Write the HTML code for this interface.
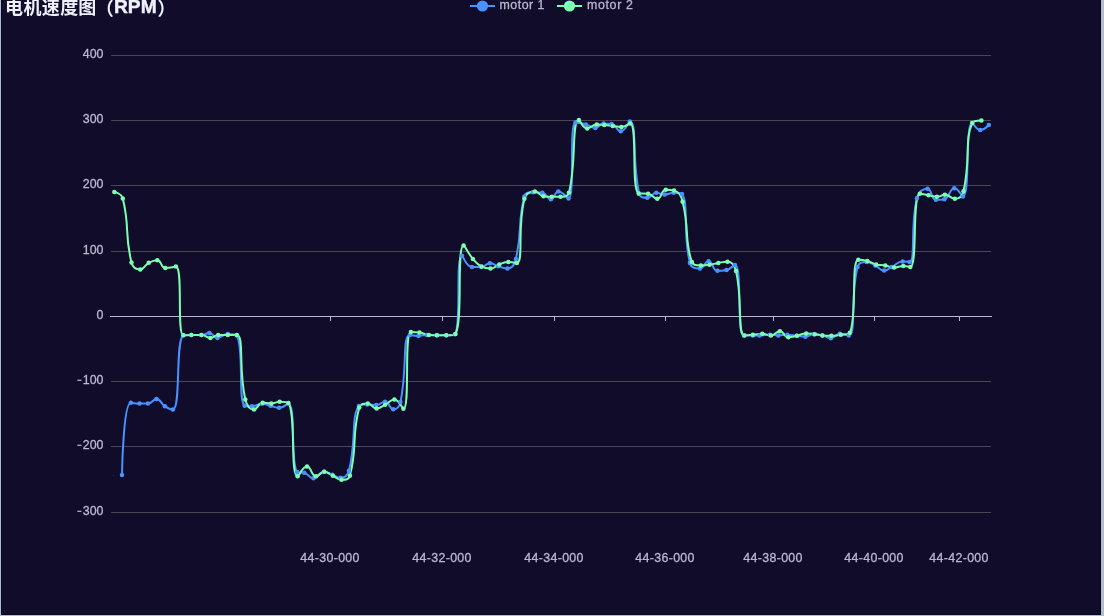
<!DOCTYPE html>
<html lang="zh"><head><meta charset="utf-8"><title>电机速度图</title>
<style>
html,body{margin:0;padding:0;background:#100c2a;overflow:hidden;}
body{width:1104px;height:616px;position:relative;font-family:"Liberation Sans",sans-serif;}
</style></head><body>
<svg role="img" aria-label="电机速度图（RPM）" width="1104" height="616" viewBox="0 0 1104 616" style="position:absolute;left:0;top:0;display:block;will-change:transform"><rect x="0" y="0" width="1104" height="616" fill="#100c2a"/><rect x="111" y="55.0" width="880" height="1" fill="#484753"/><rect x="111" y="120.0" width="880" height="1" fill="#484753"/><rect x="111" y="185.0" width="880" height="1" fill="#484753"/><rect x="111" y="251.0" width="880" height="1" fill="#484753"/><rect x="111" y="381.0" width="880" height="1" fill="#484753"/><rect x="111" y="446.0" width="880" height="1" fill="#484753"/><rect x="111" y="512.0" width="880" height="1" fill="#484753"/><rect x="110" y="316" width="882" height="1" fill="#b9b8ce"/><rect x="330" y="316" width="1" height="5" fill="#b9b8ce"/><rect x="442" y="316" width="1" height="5" fill="#b9b8ce"/><rect x="554" y="316" width="1" height="5" fill="#b9b8ce"/><rect x="665" y="316" width="1" height="5" fill="#b9b8ce"/><rect x="773" y="316" width="1" height="5" fill="#b9b8ce"/><rect x="874" y="316" width="1" height="5" fill="#b9b8ce"/><rect x="959" y="316" width="1" height="5" fill="#b9b8ce"/><g font-family="Liberation Sans, sans-serif" font-size="12.4" fill="#b9b8ce" stroke="#b9b8ce" stroke-width="0.3" text-anchor="end"><text x="103.5" y="58.00">400</text><text x="103.5" y="123.00">300</text><text x="103.5" y="188.00">200</text><text x="103.5" y="254.00">100</text><text x="103.5" y="319.00">0</text><text x="103.5" y="384.00">100</text><rect x="77.3" y="379.70" width="4.2" height="1.2" stroke="none"/><text x="103.5" y="449.00">200</text><rect x="77.3" y="444.70" width="4.2" height="1.2" stroke="none"/><text x="103.5" y="515.00">300</text><rect x="77.3" y="510.70" width="4.2" height="1.2" stroke="none"/></g><g font-family="Liberation Sans, sans-serif" font-size="12.4" fill="#b9b8ce" stroke="#b9b8ce" stroke-width="0.3"><text x="300.30" y="561.7" textLength="59.2" lengthAdjust="spacing">44-30-000</text><text x="412.30" y="561.7" textLength="59.2" lengthAdjust="spacing">44-32-000</text><text x="524.30" y="561.7" textLength="59.2" lengthAdjust="spacing">44-34-000</text><text x="635.30" y="561.7" textLength="59.2" lengthAdjust="spacing">44-36-000</text><text x="743.30" y="561.7" textLength="59.2" lengthAdjust="spacing">44-38-000</text><text x="844.30" y="561.7" textLength="59.2" lengthAdjust="spacing">44-40-000</text><text x="929.30" y="561.7" textLength="59.2" lengthAdjust="spacing">44-42-000</text></g><path d="M122.00,475.00C122.00,475.00 123.08,402.80 130.90,402.80C131.83,402.80 135.19,403.60 139.50,403.60C143.69,403.60 143.96,403.60 147.90,403.60C152.46,403.60 152.53,399.10 156.50,399.10C161.03,399.10 160.29,403.38 164.90,406.30C168.49,408.58 171.95,409.50 172.90,409.50C181.20,409.50 175.04,339.04 183.40,335.30C184.29,334.90 187.40,334.90 191.40,334.90C196.40,334.90 196.45,334.90 201.40,334.90C205.45,334.90 205.66,333.10 209.40,333.10C213.66,333.10 213.21,337.90 217.40,337.90C222.41,337.90 222.47,333.90 227.80,333.90C232.17,333.90 235.83,333.90 236.80,335.50C244.28,347.88 237.78,401.98 244.70,405.80C245.43,406.20 248.46,406.20 252.10,406.20C257.16,406.20 257.10,403.80 262.10,403.80C266.40,403.80 266.40,404.79 270.70,405.80C274.90,406.79 275.06,407.80 279.10,407.80C283.86,407.80 287.14,403.50 288.30,403.50C296.19,403.50 289.99,464.16 297.20,472.00C297.94,472.80 300.98,472.00 304.20,472.80C309.13,474.03 308.89,478.30 313.50,478.30C318.74,478.30 318.46,471.80 323.90,471.80C327.86,471.80 328.11,473.28 332.30,474.80C336.41,476.28 336.81,477.80 340.50,477.80C345.11,477.80 347.59,475.93 348.90,470.80C356.79,440.03 350.72,416.66 358.90,406.00C359.97,404.60 363.12,404.60 367.40,404.60C371.77,404.60 371.94,405.00 376.20,405.00C380.79,405.00 381.17,401.70 385.10,401.70C389.72,401.70 389.28,409.30 393.30,409.30C396.93,409.30 399.32,406.92 400.40,402.10C407.62,369.72 401.87,334.90 409.90,334.90C410.92,334.90 414.20,335.90 418.50,335.90C422.70,335.90 422.69,334.90 426.90,334.90C431.89,334.90 431.90,335.30 436.90,335.30C441.60,335.30 441.62,335.30 446.30,335.30C450.62,335.30 454.12,335.30 454.90,334.30C461.97,325.21 454.90,255.90 462.00,255.90C463.33,255.90 466.00,266.90 471.90,266.90C475.65,266.90 476.78,266.90 481.30,266.90C485.78,266.90 485.56,263.30 489.90,263.30C494.06,263.30 494.03,265.04 498.30,266.30C502.83,267.64 503.75,268.50 507.50,268.50C512.55,268.50 514.48,264.96 515.90,258.90C522.93,228.91 517.01,224.34 524.40,196.40C525.51,192.20 528.41,192.20 532.90,192.20C537.36,192.20 538.09,192.20 542.30,192.80C547.09,193.48 546.91,199.20 550.90,199.20C554.91,199.20 554.21,191.40 558.30,191.40C563.01,191.40 567.36,198.40 568.50,198.40C575.50,198.40 568.50,122.60 575.50,122.60C576.46,122.60 580.77,123.06 585.80,124.40C590.72,125.71 590.75,127.90 595.40,127.90C599.65,127.90 599.24,123.40 603.60,123.40C607.29,123.40 608.06,123.40 611.50,123.90C616.66,124.65 616.47,131.30 620.80,131.30C625.62,131.30 628.38,121.60 629.80,121.60C637.63,121.60 631.51,161.23 639.30,193.80C640.26,197.80 643.35,197.80 647.30,197.80C651.85,197.80 651.56,192.80 656.30,192.80C660.21,192.80 660.44,194.60 664.60,194.60C669.09,194.60 669.08,192.80 673.60,192.80C677.78,192.80 681.11,192.80 682.00,194.10C689.26,204.69 682.22,231.01 689.90,262.90C691.17,268.16 695.20,268.40 699.90,268.40C704.50,268.40 704.45,261.30 708.50,261.30C713.25,261.30 712.18,270.80 717.50,270.80C721.18,270.80 722.31,270.80 726.50,269.90C731.06,268.92 733.93,264.90 735.00,264.90C742.68,264.90 736.05,335.40 744.00,335.40C745.00,335.40 748.45,335.40 752.90,335.40C756.20,335.40 756.20,335.40 759.50,335.40C764.70,335.40 764.70,334.80 769.90,334.80C774.10,334.80 774.10,335.40 778.30,335.40C782.80,335.40 782.81,334.80 787.30,334.80C792.11,334.80 792.10,335.27 796.90,335.80C801.15,336.27 801.23,336.80 805.40,336.80C809.68,336.80 809.52,334.20 813.80,334.20C818.02,334.20 818.19,334.41 822.40,335.40C826.69,336.41 826.72,338.20 830.80,338.20C835.42,338.20 835.09,333.80 839.80,333.80C844.09,333.80 847.76,335.40 848.80,335.40C856.61,335.40 849.74,298.94 857.50,267.10C858.69,262.24 861.97,262.00 866.70,262.00C870.87,262.00 871.15,263.45 875.30,265.50C879.85,267.75 879.61,270.60 884.10,270.60C887.81,270.60 887.93,268.86 891.70,267.00C897.23,264.26 896.96,261.40 902.70,261.40C905.96,261.40 909.00,262.00 909.70,262.00C916.10,262.00 909.70,228.18 916.90,198.20C918.49,191.58 922.69,188.80 927.50,188.80C932.19,188.80 930.68,199.80 935.90,199.80C939.08,199.80 940.97,199.80 944.30,199.20C950.17,198.14 949.13,188.20 954.30,188.20C958.43,188.20 961.66,196.40 962.90,196.40C970.61,196.40 964.63,123.00 972.20,123.00C973.28,123.00 975.91,129.90 980.20,129.90C984.21,129.90 988.80,125.00 988.80,125.00" fill="none" stroke="#4992ff" stroke-width="2" stroke-linejoin="bevel"/><path d="M114.30,192.00C114.30,192.00 121.58,193.49 122.80,198.50C130.18,228.69 124.05,232.21 131.50,262.40C132.80,267.66 135.89,269.40 140.30,269.40C144.49,269.40 144.08,265.30 148.70,262.80C152.58,260.70 153.60,260.20 157.30,260.20C161.90,260.20 160.55,268.00 165.30,268.00C169.85,268.00 174.74,266.60 175.90,266.60C183.40,266.60 176.45,335.30 183.40,335.30C184.20,335.30 187.40,334.90 191.40,334.90C196.40,334.90 196.52,334.90 201.40,334.90C206.02,334.90 205.93,337.90 210.40,337.90C214.33,337.90 214.15,334.90 218.20,334.90C222.85,334.90 223.00,334.90 227.80,334.90C232.30,334.90 235.74,334.90 236.80,334.90C244.49,334.90 238.12,368.48 245.30,399.40C246.77,405.73 249.30,409.40 254.10,409.40C258.00,409.40 257.91,402.80 262.70,402.80C266.51,402.80 267.03,403.40 271.30,403.40C275.53,403.40 275.48,401.80 279.70,401.80C284.03,401.80 287.45,401.80 288.40,403.00C296.40,413.08 289.74,476.20 297.60,476.20C299.04,476.20 302.37,466.50 307.00,466.50C311.57,466.50 310.94,476.30 316.00,476.30C319.59,476.30 320.08,471.80 324.30,471.80C328.53,471.80 328.60,473.80 332.90,475.80C337.20,477.80 337.21,479.80 341.50,479.80C345.71,479.80 348.84,479.80 349.90,475.80C357.74,446.12 351.41,435.58 359.30,407.40C360.36,403.60 363.64,403.60 367.80,403.60C372.29,403.60 372.11,408.50 376.60,408.50C380.76,408.50 380.96,406.82 385.10,404.70C389.86,402.27 390.27,399.40 394.40,399.40C399.42,399.40 402.21,408.80 403.40,408.80C410.46,408.80 403.66,331.90 410.90,331.90C411.71,331.90 415.27,331.90 419.50,332.50C424.27,333.18 424.13,334.42 428.90,334.90C432.83,335.30 432.90,335.30 436.90,335.30C441.60,335.30 441.63,335.30 446.30,335.30C450.93,335.30 454.68,335.30 455.50,333.90C463.33,320.55 456.25,245.50 463.60,245.50C464.95,245.50 467.65,252.74 472.90,258.90C476.60,263.24 476.62,264.01 481.50,266.50C485.42,268.50 486.16,268.50 490.50,268.50C495.06,268.50 494.78,266.18 499.30,264.50C503.68,262.88 503.73,261.90 508.30,261.90C512.53,261.90 515.95,262.90 516.90,262.90C524.00,262.90 516.90,228.62 524.40,198.80C525.89,192.87 529.49,191.40 534.90,191.40C539.04,191.40 538.92,195.50 543.50,196.20C547.42,196.80 547.69,196.80 551.90,196.80C556.19,196.80 556.42,196.80 560.50,196.80C564.92,196.80 567.87,196.80 568.90,192.80C577.07,161.21 571.02,120.00 578.90,120.00C580.17,120.00 582.44,128.50 587.20,128.50C591.39,128.50 591.83,124.40 596.80,124.40C600.33,124.40 600.51,124.63 604.20,125.00C608.51,125.43 608.50,125.50 612.80,126.00C617.10,126.50 617.24,127.00 621.40,127.00C625.94,127.00 629.18,123.60 630.20,123.60C637.83,123.60 630.81,190.41 638.70,193.40C639.76,193.80 643.70,193.40 648.10,193.80C653.00,194.25 653.26,198.80 657.30,198.80C662.11,198.80 660.78,189.70 665.80,189.70C669.13,189.70 670.89,189.70 674.00,190.60C679.29,192.13 680.92,195.02 682.60,201.70C689.87,230.67 684.00,239.82 691.90,261.90C693.15,265.40 696.25,265.40 700.90,265.40C705.05,265.40 705.24,265.40 709.50,264.80C713.94,264.17 713.87,263.66 718.30,262.90C722.87,262.11 723.73,261.70 727.50,261.70C732.58,261.70 734.64,264.95 736.00,270.90C743.09,301.80 736.93,335.40 744.40,335.40C745.38,335.40 748.66,335.18 752.90,334.80C757.61,334.38 757.63,333.80 762.30,333.80C766.63,333.80 766.78,335.40 770.90,335.40C775.58,335.40 775.63,331.20 779.90,331.20C784.33,331.20 783.69,337.20 788.30,337.20C792.19,337.20 792.64,336.70 796.90,335.80C801.59,334.80 801.49,333.40 806.20,333.40C810.44,333.40 810.52,333.67 814.80,334.20C818.62,334.67 818.58,335.06 822.40,335.40C826.88,335.80 826.91,335.80 831.40,335.80C836.11,335.80 836.14,335.56 840.80,334.80C845.34,334.06 848.83,334.80 849.80,332.80C857.58,316.84 850.51,259.70 858.30,259.70C859.26,259.70 862.93,259.85 867.30,261.00C871.83,262.20 871.56,263.38 876.10,264.40C880.56,265.40 880.75,264.59 885.30,265.40C889.75,266.19 889.67,267.60 894.10,267.60C898.67,267.60 898.69,266.00 903.30,266.00C906.79,266.00 909.57,267.00 910.30,267.00C917.87,267.00 911.76,193.80 919.90,193.80C920.86,193.80 924.21,194.44 928.50,195.20C932.71,195.94 932.73,196.80 936.90,196.80C940.93,196.80 941.00,194.80 944.90,194.80C950.00,194.80 950.40,198.80 954.90,198.80C959.70,198.80 962.26,196.62 963.50,191.20C970.91,158.72 964.34,140.35 972.20,123.00C973.29,120.60 981.40,120.60 981.40,120.60" fill="none" stroke="#7cffb2" stroke-width="2" stroke-linejoin="bevel"/><g fill="#4992ff"><circle cx="122.0" cy="475.0" r="2.25"/><circle cx="130.9" cy="402.8" r="2.25"/><circle cx="139.5" cy="403.6" r="2.25"/><circle cx="147.9" cy="403.6" r="2.25"/><circle cx="156.5" cy="399.1" r="2.25"/><circle cx="164.9" cy="406.3" r="2.25"/><circle cx="172.9" cy="409.5" r="2.25"/><circle cx="183.4" cy="335.3" r="2.25"/><circle cx="191.4" cy="334.9" r="2.25"/><circle cx="201.4" cy="334.9" r="2.25"/><circle cx="209.4" cy="333.1" r="2.25"/><circle cx="217.4" cy="337.9" r="2.25"/><circle cx="227.8" cy="333.9" r="2.25"/><circle cx="236.8" cy="335.5" r="2.25"/><circle cx="244.7" cy="405.8" r="2.25"/><circle cx="252.1" cy="406.2" r="2.25"/><circle cx="262.1" cy="403.8" r="2.25"/><circle cx="270.7" cy="405.8" r="2.25"/><circle cx="279.1" cy="407.8" r="2.25"/><circle cx="288.3" cy="403.5" r="2.25"/><circle cx="297.2" cy="472.0" r="2.25"/><circle cx="304.2" cy="472.8" r="2.25"/><circle cx="313.5" cy="478.3" r="2.25"/><circle cx="323.9" cy="471.8" r="2.25"/><circle cx="332.3" cy="474.8" r="2.25"/><circle cx="340.5" cy="477.8" r="2.25"/><circle cx="348.9" cy="470.8" r="2.25"/><circle cx="358.9" cy="406.0" r="2.25"/><circle cx="367.4" cy="404.6" r="2.25"/><circle cx="376.2" cy="405.0" r="2.25"/><circle cx="385.1" cy="401.7" r="2.25"/><circle cx="393.3" cy="409.3" r="2.25"/><circle cx="400.4" cy="402.1" r="2.25"/><circle cx="409.9" cy="334.9" r="2.25"/><circle cx="418.5" cy="335.9" r="2.25"/><circle cx="426.9" cy="334.9" r="2.25"/><circle cx="436.9" cy="335.3" r="2.25"/><circle cx="446.3" cy="335.3" r="2.25"/><circle cx="454.9" cy="334.3" r="2.25"/><circle cx="462.0" cy="255.9" r="2.25"/><circle cx="471.9" cy="266.9" r="2.25"/><circle cx="481.3" cy="266.9" r="2.25"/><circle cx="489.9" cy="263.3" r="2.25"/><circle cx="498.3" cy="266.3" r="2.25"/><circle cx="507.5" cy="268.5" r="2.25"/><circle cx="515.9" cy="258.9" r="2.25"/><circle cx="524.4" cy="196.4" r="2.25"/><circle cx="532.9" cy="192.2" r="2.25"/><circle cx="542.3" cy="192.8" r="2.25"/><circle cx="550.9" cy="199.2" r="2.25"/><circle cx="558.3" cy="191.4" r="2.25"/><circle cx="568.5" cy="198.4" r="2.25"/><circle cx="575.5" cy="122.6" r="2.25"/><circle cx="585.8" cy="124.4" r="2.25"/><circle cx="595.4" cy="127.9" r="2.25"/><circle cx="603.6" cy="123.4" r="2.25"/><circle cx="611.5" cy="123.9" r="2.25"/><circle cx="620.8" cy="131.3" r="2.25"/><circle cx="629.8" cy="121.6" r="2.25"/><circle cx="639.3" cy="193.8" r="2.25"/><circle cx="647.3" cy="197.8" r="2.25"/><circle cx="656.3" cy="192.8" r="2.25"/><circle cx="664.6" cy="194.6" r="2.25"/><circle cx="673.6" cy="192.8" r="2.25"/><circle cx="682.0" cy="194.1" r="2.25"/><circle cx="689.9" cy="262.9" r="2.25"/><circle cx="699.9" cy="268.4" r="2.25"/><circle cx="708.5" cy="261.3" r="2.25"/><circle cx="717.5" cy="270.8" r="2.25"/><circle cx="726.5" cy="269.9" r="2.25"/><circle cx="735.0" cy="264.9" r="2.25"/><circle cx="744.0" cy="335.4" r="2.25"/><circle cx="752.9" cy="335.4" r="2.25"/><circle cx="759.5" cy="335.4" r="2.25"/><circle cx="769.9" cy="334.8" r="2.25"/><circle cx="778.3" cy="335.4" r="2.25"/><circle cx="787.3" cy="334.8" r="2.25"/><circle cx="796.9" cy="335.8" r="2.25"/><circle cx="805.4" cy="336.8" r="2.25"/><circle cx="813.8" cy="334.2" r="2.25"/><circle cx="822.4" cy="335.4" r="2.25"/><circle cx="830.8" cy="338.2" r="2.25"/><circle cx="839.8" cy="333.8" r="2.25"/><circle cx="848.8" cy="335.4" r="2.25"/><circle cx="857.5" cy="267.1" r="2.25"/><circle cx="866.7" cy="262.0" r="2.25"/><circle cx="875.3" cy="265.5" r="2.25"/><circle cx="884.1" cy="270.6" r="2.25"/><circle cx="891.7" cy="267.0" r="2.25"/><circle cx="902.7" cy="261.4" r="2.25"/><circle cx="909.7" cy="262.0" r="2.25"/><circle cx="916.9" cy="198.2" r="2.25"/><circle cx="927.5" cy="188.8" r="2.25"/><circle cx="935.9" cy="199.8" r="2.25"/><circle cx="944.3" cy="199.2" r="2.25"/><circle cx="954.3" cy="188.2" r="2.25"/><circle cx="962.9" cy="196.4" r="2.25"/><circle cx="972.2" cy="123.0" r="2.25"/><circle cx="980.2" cy="129.9" r="2.25"/><circle cx="988.8" cy="125.0" r="2.25"/></g><g fill="#7cffb2"><circle cx="114.3" cy="192.0" r="2.25"/><circle cx="122.8" cy="198.5" r="2.25"/><circle cx="131.5" cy="262.4" r="2.25"/><circle cx="140.3" cy="269.4" r="2.25"/><circle cx="148.7" cy="262.8" r="2.25"/><circle cx="157.3" cy="260.2" r="2.25"/><circle cx="165.3" cy="268.0" r="2.25"/><circle cx="175.9" cy="266.6" r="2.25"/><circle cx="183.4" cy="335.3" r="2.25"/><circle cx="191.4" cy="334.9" r="2.25"/><circle cx="201.4" cy="334.9" r="2.25"/><circle cx="210.4" cy="337.9" r="2.25"/><circle cx="218.2" cy="334.9" r="2.25"/><circle cx="227.8" cy="334.9" r="2.25"/><circle cx="236.8" cy="334.9" r="2.25"/><circle cx="245.3" cy="399.4" r="2.25"/><circle cx="254.1" cy="409.4" r="2.25"/><circle cx="262.7" cy="402.8" r="2.25"/><circle cx="271.3" cy="403.4" r="2.25"/><circle cx="279.7" cy="401.8" r="2.25"/><circle cx="288.4" cy="403.0" r="2.25"/><circle cx="297.6" cy="476.2" r="2.25"/><circle cx="307.0" cy="466.5" r="2.25"/><circle cx="316.0" cy="476.3" r="2.25"/><circle cx="324.3" cy="471.8" r="2.25"/><circle cx="332.9" cy="475.8" r="2.25"/><circle cx="341.5" cy="479.8" r="2.25"/><circle cx="349.9" cy="475.8" r="2.25"/><circle cx="359.3" cy="407.4" r="2.25"/><circle cx="367.8" cy="403.6" r="2.25"/><circle cx="376.6" cy="408.5" r="2.25"/><circle cx="385.1" cy="404.7" r="2.25"/><circle cx="394.4" cy="399.4" r="2.25"/><circle cx="403.4" cy="408.8" r="2.25"/><circle cx="410.9" cy="331.9" r="2.25"/><circle cx="419.5" cy="332.5" r="2.25"/><circle cx="428.9" cy="334.9" r="2.25"/><circle cx="436.9" cy="335.3" r="2.25"/><circle cx="446.3" cy="335.3" r="2.25"/><circle cx="455.5" cy="333.9" r="2.25"/><circle cx="463.6" cy="245.5" r="2.25"/><circle cx="472.9" cy="258.9" r="2.25"/><circle cx="481.5" cy="266.5" r="2.25"/><circle cx="490.5" cy="268.5" r="2.25"/><circle cx="499.3" cy="264.5" r="2.25"/><circle cx="508.3" cy="261.9" r="2.25"/><circle cx="516.9" cy="262.9" r="2.25"/><circle cx="524.4" cy="198.8" r="2.25"/><circle cx="534.9" cy="191.4" r="2.25"/><circle cx="543.5" cy="196.2" r="2.25"/><circle cx="551.9" cy="196.8" r="2.25"/><circle cx="560.5" cy="196.8" r="2.25"/><circle cx="568.9" cy="192.8" r="2.25"/><circle cx="578.9" cy="120.0" r="2.25"/><circle cx="587.2" cy="128.5" r="2.25"/><circle cx="596.8" cy="124.4" r="2.25"/><circle cx="604.2" cy="125.0" r="2.25"/><circle cx="612.8" cy="126.0" r="2.25"/><circle cx="621.4" cy="127.0" r="2.25"/><circle cx="630.2" cy="123.6" r="2.25"/><circle cx="638.7" cy="193.4" r="2.25"/><circle cx="648.1" cy="193.8" r="2.25"/><circle cx="657.3" cy="198.8" r="2.25"/><circle cx="665.8" cy="189.7" r="2.25"/><circle cx="674.0" cy="190.6" r="2.25"/><circle cx="682.6" cy="201.7" r="2.25"/><circle cx="691.9" cy="261.9" r="2.25"/><circle cx="700.9" cy="265.4" r="2.25"/><circle cx="709.5" cy="264.8" r="2.25"/><circle cx="718.3" cy="262.9" r="2.25"/><circle cx="727.5" cy="261.7" r="2.25"/><circle cx="736.0" cy="270.9" r="2.25"/><circle cx="744.4" cy="335.4" r="2.25"/><circle cx="752.9" cy="334.8" r="2.25"/><circle cx="762.3" cy="333.8" r="2.25"/><circle cx="770.9" cy="335.4" r="2.25"/><circle cx="779.9" cy="331.2" r="2.25"/><circle cx="788.3" cy="337.2" r="2.25"/><circle cx="796.9" cy="335.8" r="2.25"/><circle cx="806.2" cy="333.4" r="2.25"/><circle cx="814.8" cy="334.2" r="2.25"/><circle cx="822.4" cy="335.4" r="2.25"/><circle cx="831.4" cy="335.8" r="2.25"/><circle cx="840.8" cy="334.8" r="2.25"/><circle cx="849.8" cy="332.8" r="2.25"/><circle cx="858.3" cy="259.7" r="2.25"/><circle cx="867.3" cy="261.0" r="2.25"/><circle cx="876.1" cy="264.4" r="2.25"/><circle cx="885.3" cy="265.4" r="2.25"/><circle cx="894.1" cy="267.6" r="2.25"/><circle cx="903.3" cy="266.0" r="2.25"/><circle cx="910.3" cy="267.0" r="2.25"/><circle cx="919.9" cy="193.8" r="2.25"/><circle cx="928.5" cy="195.2" r="2.25"/><circle cx="936.9" cy="196.8" r="2.25"/><circle cx="944.9" cy="194.8" r="2.25"/><circle cx="954.9" cy="198.8" r="2.25"/><circle cx="963.5" cy="191.2" r="2.25"/><circle cx="972.2" cy="123.0" r="2.25"/><circle cx="981.4" cy="120.6" r="2.25"/></g><circle cx="113.4" cy="475.5" r="0.7" fill="#4992ff" opacity="0.22"/><rect x="470" y="5" width="25" height="2" fill="#4992ff"/><circle cx="482.5" cy="6" r="5.6" fill="#4992ff"/><text x="499.5" y="9.0" font-family="Liberation Sans, sans-serif" font-size="12.4" fill="#b9b8ce" stroke="#b9b8ce" stroke-width="0.3" textLength="45.0" lengthAdjust="spacing">motor 1</text><rect x="557" y="5" width="25" height="2" fill="#7cffb2"/><circle cx="569.5" cy="6" r="5.6" fill="#7cffb2"/><text x="587.0" y="9.0" font-family="Liberation Sans, sans-serif" font-size="12.4" fill="#b9b8ce" stroke="#b9b8ce" stroke-width="0.3" textLength="45.9" lengthAdjust="spacing">motor 2</text><text x="5 23.6 41.8 60.2 78.2" y="14.4" font-family="&quot;Liberation Sans&quot;, &quot;Noto Sans CJK SC&quot;, sans-serif" font-weight="bold" font-size="18" fill="#eef1fa">电机速度图</text><text x="95.65" y="14.6" font-family="&quot;Liberation Sans&quot;, &quot;Noto Sans CJK SC&quot;, sans-serif" font-weight="bold" font-size="18" fill="#eef1fa">（</text><text x="157.45" y="14.6" font-family="&quot;Liberation Sans&quot;, &quot;Noto Sans CJK SC&quot;, sans-serif" font-weight="bold" font-size="18" fill="#eef1fa">）</text><text x="114.0" y="13.2" font-family="Liberation Sans, sans-serif" font-weight="bold" font-size="18" fill="#eef1fa" stroke="#eef1fa" stroke-width="0.45" textLength="42.6" lengthAdjust="spacingAndGlyphs">RPM</text><rect x="0" y="0" width="1" height="616" fill="#b3bccb"/><rect x="1" y="0" width="1" height="615" fill="#07032a"/><rect x="1100" y="0" width="1" height="615" fill="#07032a"/><rect x="1" y="614" width="1100" height="1" fill="#07032a"/><rect x="1101" y="0" width="3" height="616" fill="#b3bccb"/><rect x="0" y="615" width="1104" height="1" fill="#b3bccb"/></svg>
</body></html>
